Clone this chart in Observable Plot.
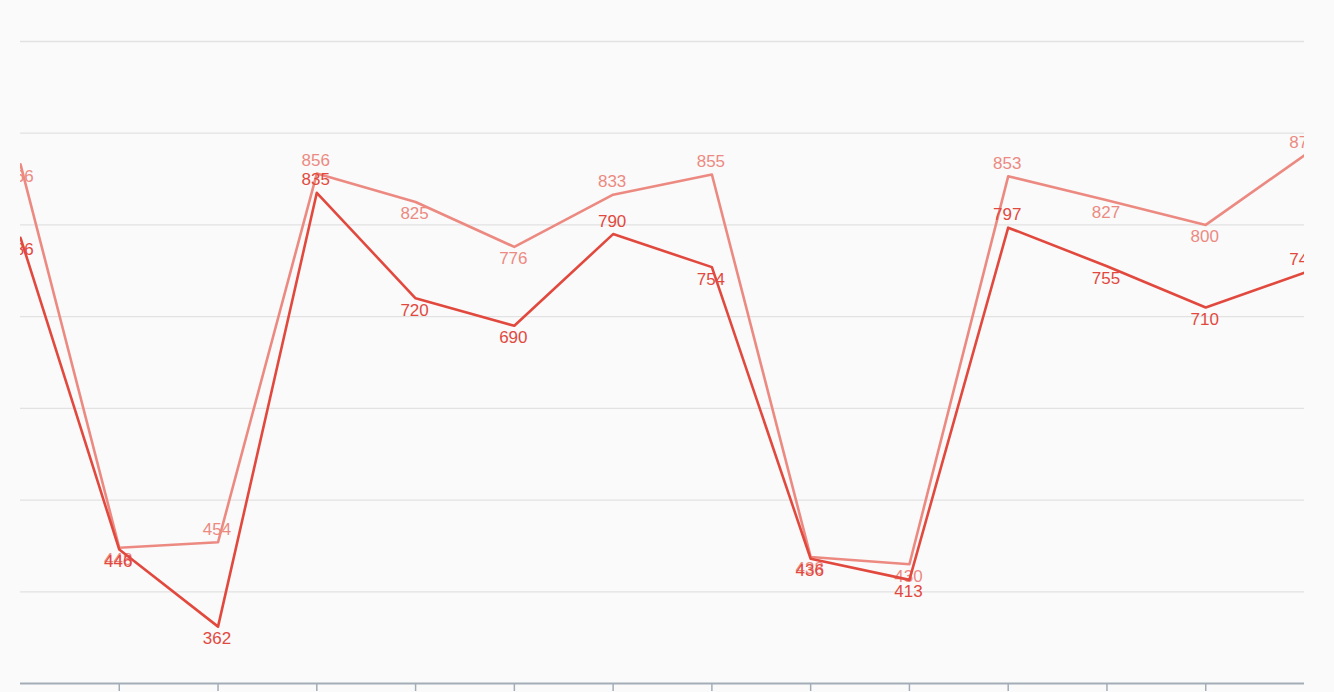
<!DOCTYPE html>
<html>
<head>
<meta charset="utf-8">
<script src="https://cdn.jsdelivr.net/npm/d3@7"></script>
<script src="https://cdn.jsdelivr.net/npm/@observablehq/plot@0.6"></script>
<style>
  html, body { margin: 0; padding: 0; background: #fafafa; }
  #chart svg { display: block; }
</style>
</head>
<body>
<div id="chart"></div>
<script>
// Data
const positions = [0, 1, 2, 3, 4, 5, 6, 7, 8, 9, 10, 11, 12, 13];
const seriesLight = [866, 448, 454, 856, 825, 776, 833, 855, 438, 430, 853, 827, 800, 876];
const seriesDark  = [786, 446, 362, 835, 720, 690, 790, 754, 436, 413, 797, 755, 710, 748];
const gridValues = [400, 500, 600, 700, 800, 900, 1000];
const tickPositions = [1, 2, 3, 4, 5, 6, 7, 8, 9, 10, 11, 12];

const lightColor = "#ec8a82";
const darkColor = "#e2493e";

function toRows(values) {
  return values.map((v, i) => ({
    x: positions[i],
    value: v,
    up: i > 0 && v > values[i - 1]
  }));
}
const lightRows = toRows(seriesLight);
const darkRows = toRows(seriesDark);

function labels(rows, color) {
  const common = {x: "x", y: "value", text: d => String(d.value), fill: color,
                  fontSize: 17, lineAnchor: "middle", textAnchor: "middle", clip: true};
  return [
    Plot.text(rows.filter(d => d.up), {...common, dx: -1, dy: -13}),
    Plot.text(rows.filter(d => !d.up), {...common, dx: -1, dy: 12})
  ];
}

const chart = Plot.plot({
  width: 1334,
  height: 692,
  marginLeft: 20,
  marginRight: 30,
  marginTop: 41,
  marginBottom: 9,
  style: {background: "#fafafa", fontFamily: "'Liberation Sans', Arial, Helvetica, sans-serif"},
  x: {domain: [0, 13], axis: null},
  y: {domain: [300, 1000], axis: null},
  marks: [
    Plot.ruleY(gridValues, {stroke: "#e2e2e2", strokeWidth: 1.3}),
    Plot.axisX({ticks: tickPositions, tickSize: 8, tickFormat: () => "", label: null, stroke: "#a3adb7", strokeWidth: 1.5, strokeOpacity: 1}),
    Plot.ruleY([300], {stroke: "#a3adb7", strokeWidth: 1.8}),
    Plot.line(lightRows, {x: "x", y: "value", stroke: lightColor, strokeWidth: 2.6, clip: true}),
    ...labels(lightRows, lightColor),
    Plot.line(darkRows, {x: "x", y: "value", stroke: darkColor, strokeWidth: 2.6, clip: true}),
    ...labels(darkRows, darkColor)
  ]
});
document.getElementById("chart").appendChild(chart);
</script>
</body>
</html>
